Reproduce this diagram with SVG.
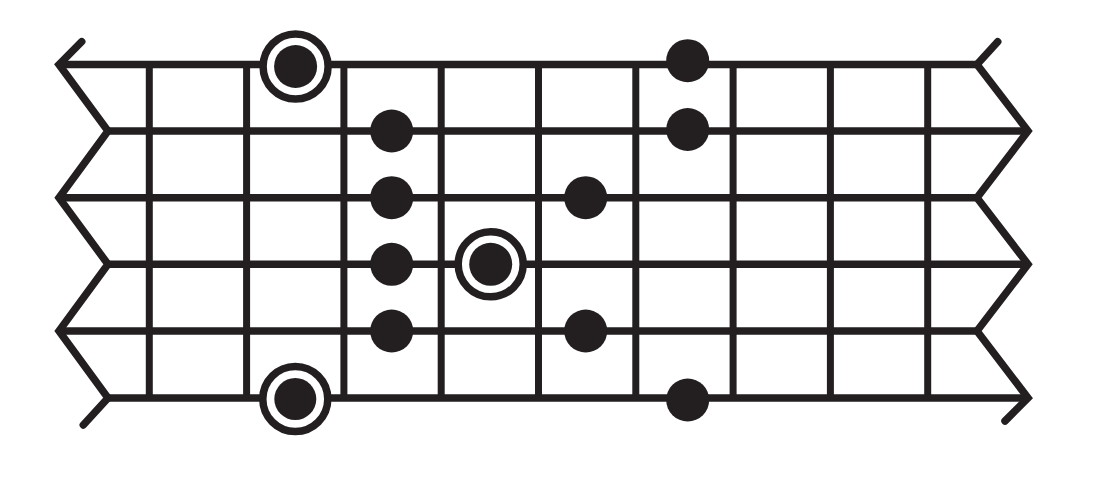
<svg xmlns="http://www.w3.org/2000/svg" width="1106" height="479" viewBox="0 0 1106 479">
<style>
.str{stroke:#231f20;stroke-width:7.5;fill:none;stroke-linecap:butt}
.fret{stroke:#231f20;stroke-width:7;fill:none}
.edge{stroke:#231f20;stroke-width:7.5;fill:none;stroke-linejoin:miter;stroke-miterlimit:10;stroke-linecap:round}
.dot{fill:#231f20}
.ring{fill:#ffffff;stroke:#231f20;stroke-width:7.5}
</style>
<rect width="1106" height="479" fill="#ffffff"/>
<g id="connectors">
<g id="strings">
<line class="str" x1="59" y1="64.5" x2="977" y2="64.5"/>
<line class="str" x1="108" y1="131" x2="1028" y2="131"/>
<line class="str" x1="59" y1="197.7" x2="977" y2="197.7"/>
<line class="str" x1="108" y1="264.3" x2="1028" y2="264.3"/>
<line class="str" x1="59" y1="331" x2="977" y2="331"/>
<line class="str" x1="108" y1="398" x2="1028" y2="398"/>
</g>
<g id="frets">
<line class="fret" x1="149.3" y1="64.5" x2="149.3" y2="398"/>
<line class="fret" x1="246.6" y1="64.5" x2="246.6" y2="398"/>
<line class="fret" x1="343.9" y1="64.5" x2="343.9" y2="398"/>
<line class="fret" x1="441.2" y1="64.5" x2="441.2" y2="398"/>
<line class="fret" x1="538.5" y1="64.5" x2="538.5" y2="398"/>
<line class="fret" x1="635.8" y1="64.5" x2="635.8" y2="398"/>
<line class="fret" x1="733.1" y1="64.5" x2="733.1" y2="398"/>
<line class="fret" x1="830.4" y1="64.5" x2="830.4" y2="398"/>
<line class="fret" x1="927.7" y1="64.5" x2="927.7" y2="398"/>
</g>
<polyline class="edge" points="81.7,41.7 59,64.5 108,131 59,197.7 108,264.3 59,331 108,398 83.3,425"/>
<polyline class="edge" points="997.7,41.7 977,64.5 1028,131 977,197.7 1028,264.3 977,331 1028,398 1005,421"/>
</g>
<g id="root1"><circle class="ring" cx="295.6" cy="66.5" r="32.5"/><circle class="dot" cx="295.6" cy="66.5" r="21.5"/></g>
<g id="root2"><circle class="ring" cx="490.7" cy="264.3" r="32.5"/><circle class="dot" cx="490.7" cy="264.3" r="21.5"/></g>
<g id="root3"><circle class="ring" cx="295.3" cy="399" r="32.5"/><circle class="dot" cx="295.3" cy="399" r="21"/></g>
<g id="n1"><circle class="dot" cx="391.7" cy="131" r="21.5"/></g>
<g id="n2"><circle class="dot" cx="391.7" cy="197.7" r="21.5"/></g>
<g id="n3"><circle class="dot" cx="391.7" cy="264.3" r="21.5"/></g>
<g id="n4"><circle class="dot" cx="391.7" cy="331" r="21.5"/></g>
<g id="n5"><circle class="dot" cx="585.7" cy="197.7" r="21.5"/></g>
<g id="n6"><circle class="dot" cx="585.7" cy="331" r="21.5"/></g>
<g id="n7"><circle class="dot" cx="687.7" cy="60.7" r="21.5"/></g>
<g id="n8"><circle class="dot" cx="687.7" cy="129.5" r="21.5"/></g>
<g id="n9"><circle class="dot" cx="687.7" cy="400" r="21.5"/></g>
</svg>
